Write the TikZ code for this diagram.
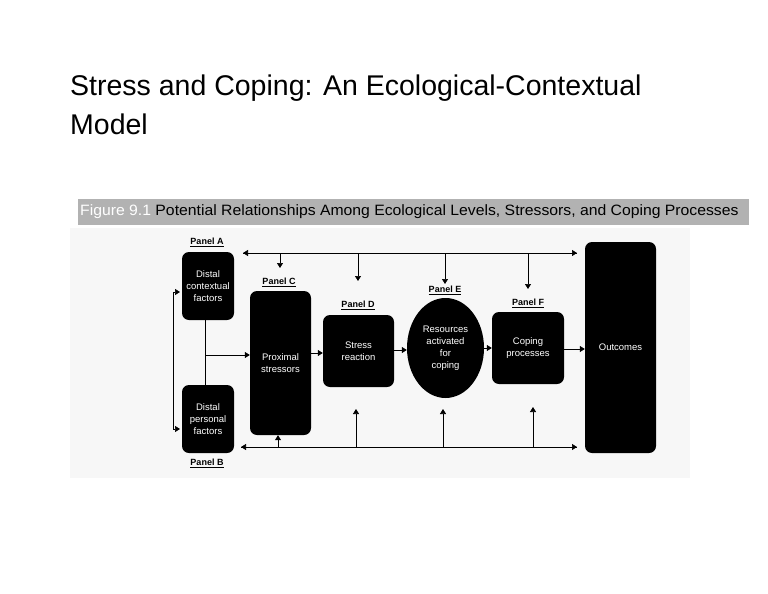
\documentclass[tikz,border=0pt]{standalone}
\usepackage{fontspec}
\setmainfont{Liberation Sans}
\usetikzlibrary{arrows.meta,shapes.geometric}
\begin{document}
\begin{tikzpicture}[x=1pt,y=-1pt,
  box/.style={fill=black,rounded corners=7pt,text=white,align=center,font=\fontsize{9.5}{12}\selectfont},
  plab/.style={font=\bfseries\fontsize{9}{10}\selectfont,inner sep=1pt},
  ar/.style={-{Triangle[length=5pt,width=6pt]},line width=0.7pt},
  ln/.style={line width=0.7pt}]
\useasboundingbox (0,0) rectangle (768,594);
\node[anchor=base west,font=\fontsize{28.5}{34}\selectfont,inner sep=0] (t1) at (70,95) {Stress and Coping: An Ecological-Contextual};
\node[anchor=base west,font=\fontsize{28.5}{34}\selectfont,inner sep=0] (t2) at (70,134) {Model};
\fill[black!3] (70,228) rectangle (690,478);
\fill[black!30] (78,199) rectangle (749,225);
\node[anchor=west,inner sep=0] (cap) at (80,212) {\scalebox{1.05}[1]{\fontsize{15}{18}\selectfont\textcolor{white}{Figure 9.1} Potential Relationships Among Ecological Levels, Stressors, and Coping Processes}};
% nodes
\node[box,minimum width=52pt,minimum height=68pt] (A) at (208,286) {Distal\\contextual\\factors};
\node[box,minimum width=52pt,minimum height=68pt] (B) at (208,419) {Distal\\personal\\factors};
\node[box,minimum width=61pt,minimum height=144pt] (C) at (280.5,363) {Proximal\\stressors};
\node[box,minimum width=71pt,minimum height=72pt] (D) at (358.5,351) {Stress\\reaction};
\node[ellipse,fill=black,text=white,align=center,font=\fontsize{9.5}{12}\selectfont,minimum width=77pt,minimum height=100pt,inner sep=0] (E) at (445.5,348) {Resources\\activated\\for\\coping};
\node[box,minimum width=72pt,minimum height=72pt] (F) at (528,348) {Coping\\processes};
\node[box,minimum width=71pt,minimum height=211pt] (O) at (620.5,347.5) {Outcomes};
% panel labels
\node[plab] (pa) at (207,242) {\underline{Panel A}};
\node[plab] (pb) at (207,463) {\underline{Panel B}};
\node[plab] (pc) at (279,282) {\underline{Panel C}};
\node[plab] (pd) at (358,305) {\underline{Panel D}};
\node[plab] (pe) at (445,290) {\underline{Panel E}};
\node[plab] (pf) at (528,303) {\underline{Panel F}};
% coordinates
\coordinate (tl) at (243,253); \coordinate (tr) at (577,253);
\coordinate (bl) at (241,447); \coordinate (br) at (577,447);
\draw[ar] (tr) -- (tl);
\draw[ar] (tl) -- (tr);
\draw[ar] (bl) -- (br);
\draw[ar] (br) -- (bl);
\draw[ar] (280,253) -- (280,268);
\draw[ar] (358,253) -- (358,281);
\draw[ar] (445,253) -- (445,284);
\draw[ar] (528,253) -- (528,289);
\draw[ar] (278,447) -- (C.south -| 278,0);
\draw[ar] (356,447) -- (356,409);
\draw[ar] (443,447) -- (443,409);
\draw[ar] (533,447) -- (533,407);
% left
\draw[ar] (173,360) -- (173,292) -- (180,292);
\draw[ar] (173,360) -- (173,429) -- (180,429);
\draw[ln] (A.south -| 205,0) -- (B.north -| 205,0);
\draw[ar] (205,355) -- (C.west |- 0,355);
\draw[ar] (C.east |- 0,353) -- (D.west |- 0,353);
\draw[ar] (D.east |- 0,350) -- (E.west |- 0,350);
\draw[ar] (E.east |- 0,348) -- (F.west |- 0,348);
\draw[ar] (F.east |- 0,349) -- (O.west |- 0,349);
\end{tikzpicture}
\end{document}
